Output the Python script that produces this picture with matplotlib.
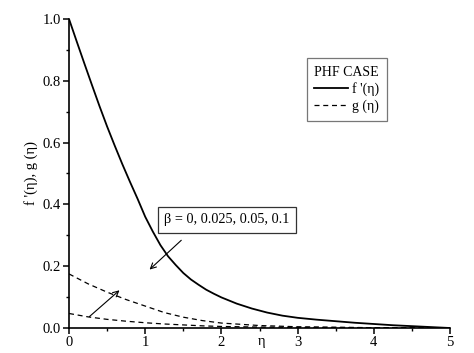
import matplotlib
matplotlib.use("Agg")
import matplotlib.pyplot as plt
from matplotlib.ticker import MultipleLocator

plt.rcParams['font.family'] = ['Liberation Serif', 'DejaVu Serif']

# f'(eta): the beta curves overlap into one solid line
eta_f = [0, 0.1, 0.2, 0.3, 0.4, 0.5, 0.6, 0.7, 0.8, 0.9, 1.0, 1.1, 1.2, 1.3,
         1.4, 1.5, 1.6, 1.7, 1.8, 1.9, 2.0, 2.2, 2.4, 2.6, 2.8, 3.0, 3.25,
         3.5, 3.75, 4.0, 4.25, 4.5, 4.75, 5.0]
fprime = [1.0, 0.928, 0.857, 0.787, 0.718, 0.652, 0.59, 0.53, 0.473, 0.418,
          0.36, 0.312, 0.268, 0.232, 0.204, 0.178, 0.157, 0.14, 0.124, 0.111,
          0.099, 0.079, 0.063, 0.05, 0.04, 0.033, 0.027, 0.022, 0.017, 0.013,
          0.009, 0.006, 0.003, 0.0]

# g(eta): upper and lower dashed curves
eta_g = [0, 0.25, 0.5, 0.75, 1.0, 1.25, 1.5, 1.75, 2.0, 2.5, 3.0, 4.0, 5.0]
g_high = [0.175, 0.143, 0.116, 0.092, 0.071, 0.05, 0.035, 0.024, 0.016,
          0.008, 0.004, 0.001, 0.0]
g_low = [0.047, 0.036, 0.028, 0.022, 0.017, 0.013, 0.01, 0.007, 0.005,
         0.003, 0.002, 0.001, 0.0]

x_ticks = [0, 1, 2, 3, 4, 5]
y_ticks = [0.0, 0.2, 0.4, 0.6, 0.8, 1.0]
beta_text = 'β = 0, 0.025, 0.05, 0.1'

fig = plt.figure(figsize=(4.74, 3.53), dpi=100)
ax = fig.add_axes([0.1456, 0.0708, 0.8038, 0.8754])

# curves
ax.plot(eta_f, fprime, color='black', lw=1.3, label="f '(η)")
ax.plot(eta_g, g_high, color='black', lw=0.9, ls=(0, (4, 3)), label='g (η)')
ax.plot(eta_g, g_low, color='black', lw=0.9, ls=(0, (4, 3)))

ax.set_xlim(0, 5)
ax.set_ylim(0, 1.0)
ax.set_xticks(x_ticks)
ax.set_xticklabels([str(v) for v in x_ticks], fontsize=10.5)
ax.set_yticks(y_ticks)
ax.set_yticklabels([f'{v:.1f}' for v in y_ticks], fontsize=10.5)
ax.xaxis.set_minor_locator(MultipleLocator(0.5))
ax.yaxis.set_minor_locator(MultipleLocator(0.1))
ax.tick_params(which='major', direction='out', length=4, width=1.1, pad=2)
ax.tick_params(which='minor', direction='out', length=2.5, width=1.0)

for s in ['top', 'right']:
    ax.spines[s].set_visible(False)
for s in ['left', 'bottom']:
    ax.spines[s].set_linewidth(1.2)

ax.set_ylabel("f '(η), g (η)", fontsize=10.5, labelpad=3)
ax.text(2.53, -0.045, 'η', fontsize=10.5, ha='center', va='center',
        transform=ax.transData, clip_on=False)

# legend
leg = ax.legend(title='PHF CASE', loc='upper left',
                bbox_to_anchor=(306.7 / 474, 1 - 58.3 / 353),
                bbox_transform=fig.transFigure, borderaxespad=0,
                fontsize=10, title_fontsize=10, frameon=True, fancybox=False,
                handlelength=2.4, handletextpad=0.3, labelspacing=0.25,
                borderpad=0.55)
leg.get_frame().set_edgecolor('#555555')
leg.get_frame().set_linewidth(0.9)

# beta annotation box
ax.text(2.07, 0.35, beta_text, fontsize=10.3, ha='center', va='center',
        bbox=dict(boxstyle='square,pad=0.45', fc='white', ec='#333333', lw=0.9))

# arrows
ax.annotate('', xy=(1.03, 0.183), xytext=(1.5, 0.29),
            arrowprops=dict(arrowstyle='->', color='black', lw=0.8))
ax.annotate('', xy=(0.69, 0.128), xytext=(0.24, 0.031),
            arrowprops=dict(arrowstyle='->', color='black', lw=0.8))

fig.savefig('out.png', dpi=100)
